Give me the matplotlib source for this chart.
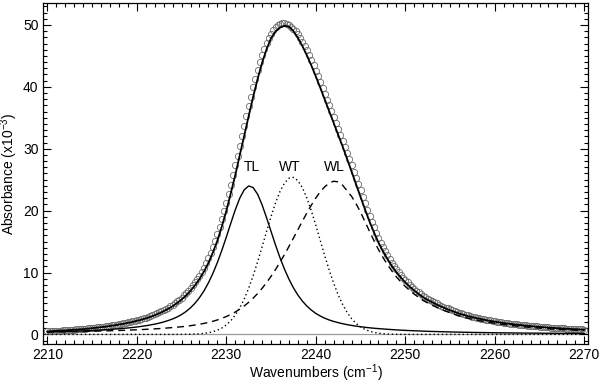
import numpy as np
import matplotlib
matplotlib.use('Agg')
import matplotlib.pyplot as plt
from matplotlib.ticker import MultipleLocator

# measured spectrum (open circles), 0.25 cm-1 steps from 2210 to 2270
wn_obs = np.arange(2210.0, 2270.01, 0.25)
abs_obs = [0.50, 0.52, 0.55, 0.58, 0.60, 0.62, 0.63, 0.66, 0.68, 0.70,
           0.72, 0.75, 0.78, 0.80, 0.83, 0.86, 0.90, 0.93, 0.97, 1.01,
           1.05, 1.09, 1.13, 1.17, 1.22, 1.26, 1.31, 1.36, 1.42, 1.47,
           1.53, 1.59, 1.65, 1.72, 1.79, 1.86, 1.94, 2.02, 2.10, 2.19,
           2.28, 2.38, 2.48, 2.59, 2.70, 2.82, 2.95, 3.09, 3.24, 3.40,
           3.56, 3.74, 3.92, 4.12, 4.33, 4.56, 4.80, 5.06, 5.33, 5.63,
           5.95, 6.29, 6.65, 7.04, 7.45, 7.91, 8.40, 8.93, 9.50, 10.13,
           10.80, 11.53, 12.30, 13.17, 14.10, 15.12, 16.20, 17.38, 18.60, 19.93,
           21.30, 22.74, 24.20, 25.74, 27.30, 28.90, 30.50, 32.10, 33.70, 35.30,
           36.90, 38.42, 39.90, 41.33, 42.70, 43.95, 45.10, 46.15, 47.10, 47.90,
           48.60, 49.15, 49.60, 49.95, 50.20, 50.30, 50.30, 50.20, 50.00, 49.73,
           49.40, 48.98, 48.50, 47.93, 47.30, 46.62, 45.90, 45.12, 44.30, 43.46,
           42.60, 41.70, 40.80, 39.85, 38.90, 37.95, 37.00, 36.05, 35.10, 34.15,
           33.20, 32.25, 31.30, 30.30, 29.30, 28.30, 27.30, 26.30, 25.30, 24.30,
           23.30, 22.25, 21.20, 20.18, 19.20, 18.23, 17.30, 16.43, 15.60, 14.83,
           14.10, 13.43, 12.80, 12.18, 11.60, 11.03, 10.50, 10.03, 9.60, 9.19,
           8.80, 8.42, 8.05, 7.72, 7.40, 7.09, 6.80, 6.52, 6.25, 6.02,
           5.80, 5.57, 5.35, 5.17, 5.00, 4.82, 4.65, 4.49, 4.33, 4.19,
           4.05, 3.90, 3.75, 3.62, 3.50, 3.38, 3.27, 3.16, 3.06, 2.96,
           2.87, 2.78, 2.70, 2.62, 2.54, 2.46, 2.39, 2.32, 2.25, 2.18,
           2.12, 2.06, 2.00, 1.94, 1.89, 1.84, 1.79, 1.74, 1.70, 1.65,
           1.61, 1.57, 1.53, 1.49, 1.45, 1.41, 1.38, 1.34, 1.31, 1.28,
           1.25, 1.22, 1.19, 1.16, 1.13, 1.10, 1.08, 1.05, 1.03, 1.00,
           0.98, 0.96, 0.94, 0.92, 0.90, 0.88, 0.86, 0.84, 0.82, 0.80,
           0.78]

# fitted envelope and the three bands, 0.5 cm-1 steps
wn_fit = np.arange(2210.0, 2270.01, 0.5)
abs_fit = [0.47, 0.53, 0.58, 0.61, 0.65, 0.70, 0.75, 0.80, 0.86, 0.93,
           1.01, 1.09, 1.17, 1.26, 1.36, 1.47, 1.59, 1.72, 1.86, 2.02,
           2.19, 2.38, 2.59, 2.83, 3.09, 3.40, 3.74, 4.13, 4.56, 5.07,
           5.64, 6.30, 7.05, 7.93, 8.95, 10.15, 11.55, 13.25, 15.15, 17.45,
           19.95, 22.80, 25.75, 28.95, 32.10, 35.30, 38.40, 41.30, 43.90, 46.10,
           47.85, 48.95, 49.60, 49.85, 49.75, 49.00, 47.90, 46.60, 45.10, 43.45,
           41.70, 39.85, 37.95, 36.05, 34.15, 32.25, 30.35, 28.35, 26.30, 24.25,
           22.20, 20.20, 18.25, 16.50, 14.85, 13.45, 12.20, 11.05, 10.05, 9.20,
           8.40, 7.72, 7.10, 6.53, 6.00, 5.58, 5.20, 4.84, 4.50, 4.19,
           3.90, 3.63, 3.38, 3.16, 2.96, 2.78, 2.62, 2.46, 2.32, 2.18,
           2.06, 1.95, 1.84, 1.74, 1.65, 1.57, 1.49, 1.41, 1.34, 1.28,
           1.22, 1.16, 1.10, 1.05, 1.00, 0.96, 0.92, 0.88, 0.84, 0.80,
           0.76]
abs_tl = [0.39, 0.41, 0.43, 0.45, 0.47, 0.49, 0.52, 0.55, 0.57, 0.61,
          0.64, 0.68, 0.72, 0.76, 0.80, 0.86, 0.91, 0.98, 1.04, 1.12,
          1.20, 1.30, 1.40, 1.53, 1.66, 1.82, 2.01, 2.24, 2.50, 2.82,
          3.21, 3.70, 4.30, 5.04, 5.94, 7.03, 8.33, 9.86, 11.62, 13.59,
          15.73, 17.96, 20.13, 22.01, 23.37, 23.99, 23.72, 22.64, 20.92, 18.84,
          16.63, 14.43, 12.38, 10.54, 8.92, 7.53, 6.35, 5.38, 4.58, 3.93,
          3.39, 2.97, 2.62, 2.33, 2.10, 1.90, 1.73, 1.58, 1.45, 1.34,
          1.24, 1.15, 1.07, 1.00, 0.94, 0.88, 0.83, 0.78, 0.73, 0.69,
          0.65, 0.62, 0.59, 0.56, 0.53, 0.50, 0.48, 0.46, 0.44, 0.42,
          0.40, 0.38, 0.37, 0.35, 0.34, 0.32, 0.31, 0.30, 0.29, 0.28,
          0.27, 0.26, 0.25, 0.245, 0.24, 0.23, 0.22, 0.215, 0.21, 0.205,
          0.20, 0.195, 0.19, 0.185, 0.18, 0.175, 0.17, 0.165, 0.16, 0.155,
          0.15]
abs_wt = [0, 0, 0, 0, 0, 0, 0, 0, 0, 0,
          0, 0, 0, 0, 0, 0, 0, 0, 0, 0,
          0, 0, 0, 0, 0, 0, 0, 0, 0, 0,
          0.01, 0.02, 0.03, 0.06, 0.10, 0.16, 0.27, 0.43, 0.68, 1.03,
          1.53, 2.21, 3.12, 4.28, 5.73, 7.47, 9.49, 11.75, 14.17, 16.64,
          19.06, 21.26, 23.10, 24.46, 25.24, 25.37, 24.85, 23.71, 22.05, 19.97,
          17.63, 15.16, 12.70, 10.37, 8.25, 6.39, 4.83, 3.55, 2.54, 1.78,
          1.21, 0.80, 0.52, 0.33, 0.20, 0.12, 0.07, 0.04, 0.02, 0.01,
          0, 0, 0, 0, 0, 0, 0, 0, 0, 0,
          0, 0, 0, 0, 0, 0, 0, 0, 0, 0,
          0, 0, 0, 0, 0, 0, 0, 0, 0, 0,
          0, 0, 0, 0, 0, 0, 0, 0, 0, 0,
          0]
abs_wl = [0.37, 0.38, 0.40, 0.41, 0.42, 0.44, 0.45, 0.46, 0.48, 0.50,
          0.51, 0.53, 0.55, 0.57, 0.59, 0.61, 0.64, 0.66, 0.69, 0.72,
          0.75, 0.78, 0.82, 0.86, 0.90, 0.94, 0.99, 1.05, 1.11, 1.17,
          1.24, 1.32, 1.41, 1.52, 1.64, 1.78, 1.94, 2.12, 2.34, 2.59,
          2.89, 3.23, 3.62, 4.08, 4.60, 5.19, 5.86, 6.61, 7.45, 8.38,
          9.39, 10.49, 11.66, 12.91, 14.21, 15.56, 16.93, 18.29, 19.63, 20.89,
          22.05, 23.05, 23.86, 24.44, 24.75, 24.65, 24.10, 23.20, 22.30, 21.10,
          19.75, 18.20, 16.66, 15.15, 13.71, 12.45, 11.30, 10.25, 9.30, 8.50,
          7.75, 7.10, 6.51, 5.97, 5.47, 5.08, 4.72, 4.38, 4.06, 3.77,
          3.50, 3.25, 3.01, 2.81, 2.62, 2.46, 2.31, 2.17, 2.03, 1.91,
          1.79, 1.69, 1.59, 1.50, 1.41, 1.34, 1.27, 1.20, 1.13, 1.07,
          1.02, 0.96, 0.91, 0.86, 0.82, 0.78, 0.75, 0.71, 0.68, 0.64,
          0.61]

band_names = ['TL', 'WT', 'WL']
band_label_x = [2232.9, 2237.1, 2242.1]
band_label_y = 27.1

plt.rcParams['font.family'] = 'Liberation Sans'
plt.rcParams['font.size'] = 10

fig = plt.figure(figsize=(6, 3.83), dpi=100)
ax = fig.add_axes([0.0722, 0.101, 0.9083, 0.892])

ax.axhline(0, color='0.6', lw=0.9, zorder=1)
ax.plot(wn_obs, abs_obs, 'o', mfc='none', mec='0.42', ms=4.5, mew=0.6, zorder=2)
ax.plot(wn_fit, abs_fit, '-', color='k', lw=1.3, zorder=3)
ax.plot(wn_fit, abs_tl, '-', color='k', lw=1.0, zorder=3)
ax.plot(wn_fit, abs_wt, color='k', lw=1.0, ls=(0, (1, 2)), zorder=3)
ax.plot(wn_fit, abs_wl, color='k', lw=1.0, ls=(0, (5, 3.5)), zorder=3)

for name, xl in zip(band_names, band_label_x):
    ax.text(xl, band_label_y, name, ha='center', va='center', fontsize=10)

ax.set_xlim(2209.55, 2270.45)
ax.set_ylim(-1.6, 53.6)
ax.xaxis.set_major_locator(MultipleLocator(10))
ax.xaxis.set_minor_locator(MultipleLocator(1))
ax.yaxis.set_major_locator(MultipleLocator(10))
ax.yaxis.set_minor_locator(MultipleLocator(1))
ax.tick_params(which='both', direction='in', top=True, right=True, width=0.8)
ax.tick_params(which='major', length=6)
ax.tick_params(which='minor', length=3)
ax.tick_params(axis='x', pad=3)
for s in ax.spines.values():
    s.set_linewidth(0.9)

# x label sits right at the bottom edge, like the original
ax.set_xlabel('Wavenumbers (cm$^{\\mathregular{-1}}$)', va='baseline')
ax.xaxis.set_label_coords(0.5, -0.0995)
ax.set_ylabel('Absorbance (x10$^{\\mathregular{-3}}$)', labelpad=2)

fig.savefig('out.png', dpi=100)
